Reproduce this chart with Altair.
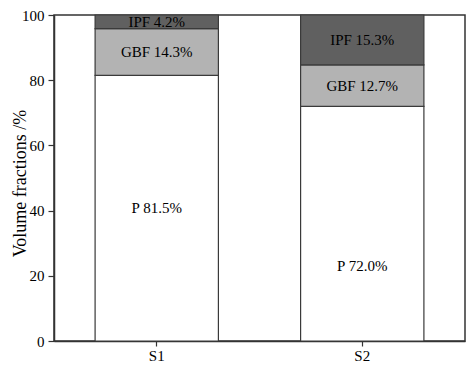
import altair as alt
import pandas as pd

samples = ["S1", "S2"]
phases = ["P", "GBF", "IPF"]
p_vals = [81.5, 72.0]
gbf_vals = [14.3, 12.7]
ipf_vals = [4.2, 15.3]
phase_colors = ["#ffffff", "#b3b3b3", "#606060"]
p_label_at = [40.75, 23.0]
y_tick_values = [0, 10, 20, 30, 40, 50, 60, 70, 80, 90, 100]

rows = []
for i, s in enumerate(samples):
    vals = [p_vals[i], gbf_vals[i], ipf_vals[i]]
    base = 0.0
    for j, ph in enumerate(phases):
        v = vals[j]
        mid = base + v / 2
        if ph == "P":
            mid = p_label_at[i]
        rows.append(dict(sample=s, phase=ph, order=j, y0=base, y1=base + v,
                         mid=mid, label=f"{ph} {v:.1f}%"))
        base += v
df = pd.DataFrame(rows)

FONT = "Liberation Serif"

x_enc = alt.X("sample:N", title=None,
              scale=alt.Scale(paddingInner=0.4, paddingOuter=0.2),
              axis=alt.Axis(labelAngle=0, labelFont=FONT, labelFontSize=15,
                            labelColor="black", labelPadding=2, tickSize=5,
                            tickColor="#333", domainColor="#333", domainWidth=1.5,
                            tickWidth=1.2))

y_scale = alt.Scale(domain=[0, 100], nice=False)

bars = alt.Chart(df).mark_bar(stroke="#3a3a3a", strokeWidth=1.2).encode(
    x=x_enc,
    y=alt.Y("y0:Q", scale=y_scale, title="Volume fractions /%",
            axis=alt.Axis(values=y_tick_values,
                          labelExpr="datum.value % 20 == 0 ? datum.label : ''",
                          tickSize={"condition": {"test": "datum.value % 20 == 0", "value": 6}, "value": 3},
                          grid=False, labelFont=FONT, labelFontSize=15,
                          labelColor="black", labelPadding=4,
                          titleFont=FONT, titleFontSize=18, titleFontWeight="normal",
                          titleColor="black", titleBaseline="alphabetic",
                          titleX=-29, titleY=168, titleAlign="center",
                          tickColor="#333", domainColor="#333", domainWidth=1.5,
                          tickWidth=1.2)),
    y2="y1:Q",
    color=alt.Color("phase:N", scale=alt.Scale(domain=phases, range=phase_colors), legend=None),
)

texts = alt.Chart(df).mark_text(font=FONT, fontSize=15, color="black").encode(
    x="sample:N",
    y=alt.Y("mid:Q", scale=y_scale),
    text="label:N",
)

chart = alt.layer(bars, texts).properties(
    width=411, height=326,
    autosize=alt.AutoSizeParams(type="none"),
    padding={"left": 46, "top": 7, "right": 1, "bottom": 24},
).configure_view(stroke="#333", strokeWidth=1.5)

chart.save("out.html", embed_options={"renderer": "svg", "actions": False})
